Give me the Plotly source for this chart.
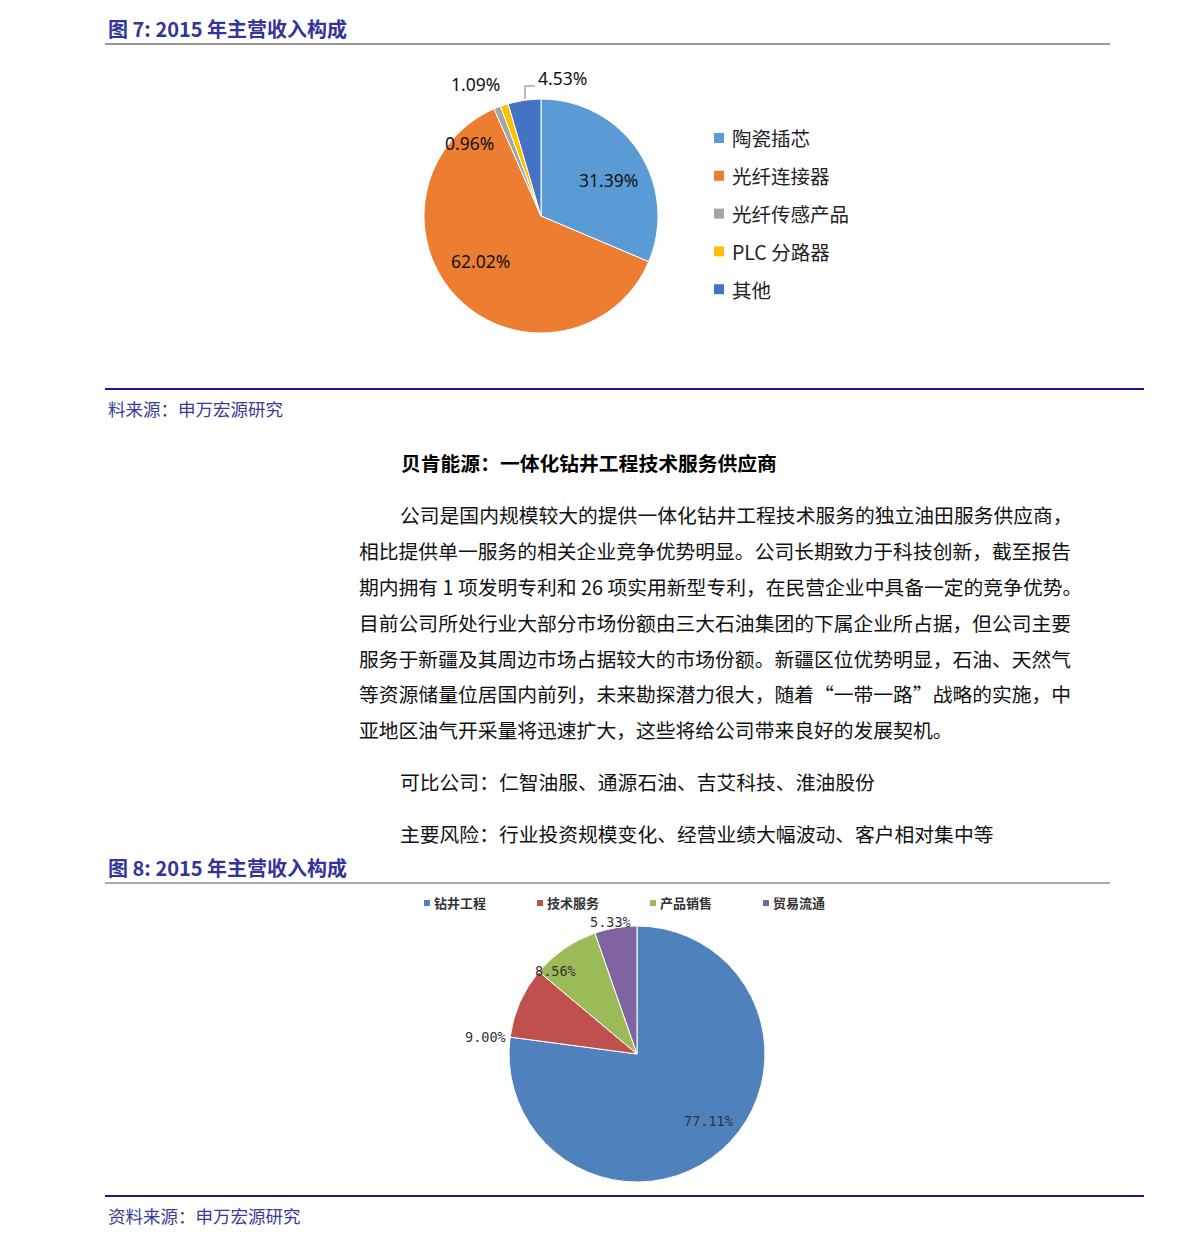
import plotly.graph_objects as go

W, H = 1191, 1245

# ---------------- data ----------------
pie1_labels = ["陶瓷插芯", "光纤连接器", "光纤传感产品", "PLC 分路器", "其他"]
pie1_values = [31.39, 62.02, 0.96, 1.09, 4.53]
pie1_colors = ["#5B9BD5", "#ED7D31", "#A5A5A5", "#FFC000", "#4472C4"]

pie2_labels = ["钻井工程", "技术服务", "产品销售", "贸易流通"]
pie2_values = [77.11, 9.00, 8.56, 5.33]
pie2_colors = ["#4F81BD", "#C0504D", "#9BBB59", "#8064A2"]

title1 = "图 7: 2015 年主营收入构成"
title2 = "图 8: 2015 年主营收入构成"
source1 = "料来源：申万宏源研究"
source2 = "资料来源：申万宏源研究"
heading = "贝肯能源：一体化钻井工程技术服务供应商"
para_lines = [
    "公司是国内规模较大的提供一体化钻井工程技术服务的独立油田服务供应商，",
    "相比提供单一服务的相关企业竞争优势明显。公司长期致力于科技创新，截至报告",
    "期内拥有 1 项发明专利和 26 项实用新型专利，在民营企业中具备一定的竞争优势。",
    "目前公司所处行业大部分市场份额由三大石油集团的下属企业所占据，但公司主要",
    "服务于新疆及其周边市场占据较大的市场份额。新疆区位优势明显，石油、天然气",
    "等资源储量位居国内前列，未来勘探潜力很大，随着“一带一路”战略的实施，中",
    "亚地区油气开采量将迅速扩大，这些将给公司带来良好的发展契机。",
]
comparable = "可比公司：仁智油服、通源石油、吉艾科技、淮油股份"
risks = "主要风险：行业投资规模变化、经营业绩大幅波动、客户相对集中等"

# page offset (the figure is placed 8px from the page corner)
OX, OY = 8, 8


def X(px):
    return (px - OX) / W


def Y(py):
    return 1 - (py - OY) / H


CJK = "Noto Sans CJK SC"
NAVY = "#33339A"

fig = go.Figure()

# pie 1
c1x, c1y, r1 = 541, 216, 117
fig.add_trace(go.Pie(
    labels=pie1_labels, values=pie1_values, sort=False, direction="clockwise",
    rotation=0, marker=dict(colors=pie1_colors, line=dict(color="white", width=1)),
    textinfo="none", hoverinfo="label+percent", showlegend=False,
    domain=dict(x=[X(c1x - r1), X(c1x + r1)], y=[Y(c1y + r1), Y(c1y - r1)]),
))

# pie 2
c2x, c2y, r2 = 637, 1054, 128
fig.add_trace(go.Pie(
    labels=pie2_labels, values=pie2_values, sort=False, direction="clockwise",
    rotation=0, marker=dict(colors=pie2_colors, line=dict(color="white", width=1)),
    textinfo="none", hoverinfo="label+percent", showlegend=False,
    domain=dict(x=[X(c2x - r2), X(c2x + r2)], y=[Y(c2y + r2), Y(c2y - r2)]),
))

ann = []
shapes = []


def text(x, y, s, size, color="#000", family=CJK, anchor="left", bold=False):
    if bold:
        s = "<b>" + s + "</b>"
    ann.append(dict(x=X(x), y=Y(y), xref="paper", yref="paper", text=s, showarrow=False,
                    xanchor=anchor, yanchor="middle",
                    font=dict(size=size, color=color, family=family)))


def hline(x0, x1, y, color, width):
    shapes.append(dict(type="line", xref="paper", yref="paper", x0=X(x0), x1=X(x1),
                       y0=Y(y), y1=Y(y), line=dict(color=color, width=width)))


# titles / rules
text(106, 29, title1, 20, NAVY, bold=True)
hline(105, 1110, 44, "#333333", 1.2)
hline(105, 1144, 389, "#1A1A8C", 2)
text(106, 408, source1, 17.5, "#3A3A9A")

text(106, 867, title2, 20, NAVY, bold=True)
hline(105, 1110, 883, "#555555", 1.2)
hline(105, 1144, 1196, "#1A1A8C", 2)
text(106, 1215, source2, 17.5, "#3A3A9A")

# pie1 labels
fmt = lambda v: f"{v:.2f}%"
pie1_label_pos = [(608, 180), (480, 261), (469, 143), (475, 84), (562, 78)]
for (lx, ly), v in zip(pie1_label_pos, pie1_values):
    text(lx, ly, fmt(v), 17.5, "#111", family="Noto Sans", anchor="center")
# leader line for last label
shapes.append(dict(type="path", xref="paper", yref="paper",
                   path=f"M {X(525)} {Y(99)} L {X(525)} {Y(86)} L {X(535)} {Y(86)}",
                   line=dict(color="#777", width=1)))

# pie1 legend
for i, (lab, col) in enumerate(zip(pie1_labels, pie1_colors)):
    yy = 138 + i * 37.8
    shapes.append(dict(type="rect", xref="paper", yref="paper",
                       x0=X(714), x1=X(724), y0=Y(yy + 5), y1=Y(yy - 5),
                       fillcolor=col, line=dict(width=0)))
    text(730, yy, lab, 19.5, "#222")

# pie2 labels
pie2_label_pos = [(708, 1121), (485, 1037), (555, 971), (610, 922)]
for (lx, ly), v in zip(pie2_label_pos, pie2_values):
    text(lx, ly, fmt(v), 13.5, "#333", family="DejaVu Sans Mono", anchor="center")

# pie2 legend
for i, (lab, col) in enumerate(zip(pie2_labels, pie2_colors)):
    xx = 424 + i * 113
    shapes.append(dict(type="rect", xref="paper", yref="paper",
                       x0=X(xx), x1=X(xx + 6), y0=Y(906), y1=Y(900),
                       fillcolor=col, line=dict(width=0)))
    text(xx + 8, 903, lab, 13, "#333", bold=True)

# body text
text(399, 462, heading, 19.8, "#000", bold=True)
for i, line in enumerate(para_lines):
    x0 = 398 if i == 0 else 357
    text(x0, 514 + i * 36, line, 19.8, "#111")
text(398, 781, comparable, 19.8, "#111")
text(398, 833, risks, 19.8, "#111")

fig.update_layout(
    width=W, height=H, margin=dict(l=0, r=0, t=0, b=0),
    paper_bgcolor="white", plot_bgcolor="white",
    annotations=ann, shapes=shapes, showlegend=False,
)

fig.write_html("out.html")
